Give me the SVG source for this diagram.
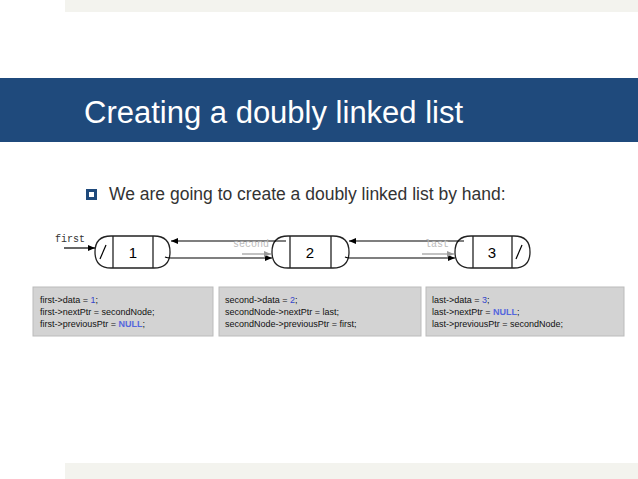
<svg xmlns="http://www.w3.org/2000/svg" width="638" height="479" viewBox="0 0 638 479">
<defs>
<marker id="ah" markerWidth="8" markerHeight="8" refX="7" refY="4" orient="auto" markerUnits="userSpaceOnUse"><path d="M0,1 L7,4 L0,7 Z" fill="#000"/></marker>
<marker id="ag" markerWidth="8" markerHeight="8" refX="7" refY="4" orient="auto" markerUnits="userSpaceOnUse"><path d="M0,1 L7,4 L0,7 Z" fill="#999"/></marker>
</defs>
<style>
.n{fill:#fff;stroke:#222;stroke-width:1.3}
.t{font-family:"Liberation Sans",Arial,sans-serif}
.c{font-family:"Liberation Sans",Arial,sans-serif;font-size:9px;fill:#111}
.m{font-family:"Liberation Mono",monospace;font-size:10px}
.box{fill:#d3d3d3;stroke:#bbb}
.w{stroke:#000;stroke-width:1.2;fill:none}
</style>
<rect width="638" height="479" fill="#fff"/>
<rect x="65" y="0" width="573" height="12" fill="#f3f3ee"/>
<rect x="65" y="463" width="573" height="16" fill="#f3f3ee"/>
<rect x="0" y="78" width="638" height="64" fill="#1f4a7c"/>
<text class="t" x="84" y="123" font-size="31" fill="#fff">Creating a doubly linked list</text>
<rect x="86" y="189" width="11" height="11" fill="#1f4a7c"/><rect x="89" y="192" width="5" height="5" fill="#fff"/>
<text class="t" x="109" y="200" font-size="17.5" fill="#333">We are going to create a doubly linked list by hand:</text>
<g id="node1"><path class="n" d="M111,236 H154 Q170,236 170,252 Q170,268 154,268 H111 Q95,268 95,252 Q95,236 111,236 Z"/><line class="n" x1="113" y1="236" x2="113" y2="268"/><line class="n" x1="153" y1="236" x2="153" y2="268"/><line class="w" x1="100" y1="259" x2="106" y2="245"/><text class="t" x="133" y="258" font-size="15" text-anchor="middle">1</text></g>
<g id="node2"><path class="n" d="M288,236 H333 Q349,236 349,252 Q349,268 333,268 H288 Q272,268 272,252 Q272,236 288,236 Z"/><line class="n" x1="290" y1="236" x2="290" y2="268"/><line class="n" x1="331" y1="236" x2="331" y2="268"/><text class="t" x="310" y="258" font-size="15" text-anchor="middle">2</text></g>
<g id="node3"><path class="n" d="M471,236 H514 Q530,236 530,252 Q530,268 514,268 H471 Q455,268 455,252 Q455,236 471,236 Z"/><line class="n" x1="473" y1="236" x2="473" y2="268"/><line class="n" x1="512" y1="236" x2="512" y2="268"/><line class="w" x1="516" y1="259" x2="522" y2="245"/><text class="t" x="492" y="258" font-size="15" text-anchor="middle">3</text></g>
<g id="connectors">
<line class="w" x1="64" y1="248" x2="95" y2="248" marker-end="url(#ah)"/>
<line class="w" x1="286" y1="241" x2="171" y2="241" marker-end="url(#ah)"/>
<path class="w" d="M165,257 Q167,258 171,258 H272" marker-end="url(#ah)"/>
<line class="w" x1="464" y1="241" x2="349" y2="241" marker-end="url(#ah)"/>
<path class="w" d="M345,257 Q347,258 350,258 H455" marker-end="url(#ah)"/>
<line x1="242" y1="254" x2="271" y2="254" stroke="#999" stroke-width="1.2" marker-end="url(#ag)"/>
<line x1="422" y1="254" x2="454" y2="254" stroke="#999" stroke-width="1.2" marker-end="url(#ag)"/>
</g>
<text class="m" x="55" y="242" fill="#333">first</text>
<text class="m" x="233" y="247" fill="#bbb" font-size="9">second</text>
<text class="m" x="425" y="247" fill="#bbb" font-size="9">last</text>
<g id="box1"><rect class="box" x="33" y="287" width="180" height="49"/>
<text class="c" x="40" y="303">first-&gt;data = <tspan fill="#3344cc">1</tspan>;</text>
<text class="c" x="40" y="315">first-&gt;nextPtr = secondNode;</text>
<text class="c" x="40" y="327">first-&gt;previousPtr = <tspan fill="#5566dd" font-weight="bold">NULL</tspan>;</text></g>
<g id="box2"><rect class="box" x="219" y="287" width="202" height="49"/>
<text class="c" x="225" y="303">second-&gt;data = <tspan fill="#3344cc">2</tspan>;</text>
<text class="c" x="225" y="315">secondNode-&gt;nextPtr = last;</text>
<text class="c" x="225" y="327">secondNode-&gt;previousPtr = first;</text></g>
<g id="box3"><rect class="box" x="426" y="287" width="198" height="49"/>
<text class="c" x="432" y="303">last-&gt;data = <tspan fill="#3344cc">3</tspan>;</text>
<text class="c" x="432" y="315">last-&gt;nextPtr = <tspan fill="#5566dd" font-weight="bold">NULL</tspan>;</text>
<text class="c" x="432" y="327">last-&gt;previousPtr = secondNode;</text></g>
</svg>
